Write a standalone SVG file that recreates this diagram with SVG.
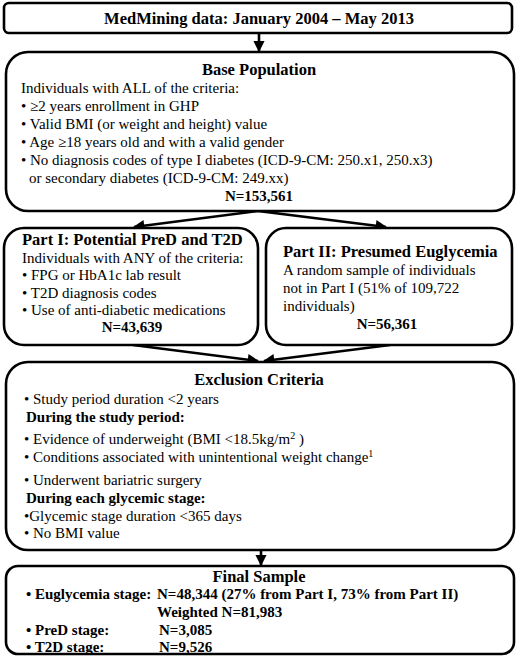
<svg xmlns="http://www.w3.org/2000/svg" width="520" height="658" viewBox="0 0 520 658">
<defs>
<marker id="ah" viewBox="0 0 10 10" refX="9" refY="5" markerWidth="4.4" markerHeight="4.4" orient="auto" markerUnits="strokeWidth">
<path d="M0,0 L10,5 L0,10 z" fill="#000"/>
</marker>
<style>
.box{fill:#fff;stroke:#000;stroke-width:2.6}
text{font-family:"Liberation Serif","Times New Roman",serif;font-size:15px;fill:#000}
.h{font-weight:bold;font-size:16.5px}
.b{font-weight:bold}
.c{text-anchor:middle}
.ln{stroke:#000;stroke-width:2.6;fill:none}
</style>
</defs>
<rect width="520" height="658" fill="#fff"/>
<g id="connectors">
<line class="ln" x1="259" y1="33" x2="259" y2="51" marker-end="url(#ah)"/>
<path class="ln" d="M258,211 L134,227" marker-end="url(#ah)"/>
<path class="ln" d="M258,211 L386,227" marker-end="url(#ah)"/>
<path class="ln" d="M133,345 L258,361" marker-end="url(#ah)"/>
<path class="ln" d="M390,345 L264,361" marker-end="url(#ah)"/>
<line class="ln" x1="261" y1="550" x2="261" y2="565" marker-end="url(#ah)"/>
</g>
<g id="source">
<rect class="box" x="4" y="3" width="508" height="30" rx="5"/>
<text class="h c" x="259" y="24">MedMining data: January 2004 – May 2013</text>
</g>
<g id="base">
<rect class="box" x="6" y="52" width="508" height="159" rx="22"/>
<text class="h c" x="259" y="75">Base Population</text>
<text x="21" y="93">Individuals with ALL of the criteria:</text>
<text x="21" y="111">• ≥2 years enrollment in GHP</text>
<text x="21" y="129">• Valid BMI (or weight and height) value</text>
<text x="21" y="147">• Age ≥18 years old and with a valid gender</text>
<text x="21" y="165">• No diagnosis codes of type I diabetes (ICD-9-CM: 250.x1, 250.x3)</text>
<text x="29" y="183">or secondary diabetes (ICD-9-CM: 249.xx)</text>
<text class="b c" x="259" y="201">N=153,561</text>
</g>
<g id="part1">
<rect class="box" x="4" y="228" width="254" height="117" rx="20"/>
<text class="h" x="22" y="245">Part I: Potential PreD and T2D</text>
<text x="22" y="263">Individuals with ANY of the criteria:</text>
<text x="22" y="280">• FPG or HbA1c lab result</text>
<text x="22" y="298">• T2D diagnosis codes</text>
<text x="22" y="315">• Use of anti-diabetic medications</text>
<text class="b c" x="132" y="332">N=43,639</text>
</g>
<g id="part2">
<rect class="box" x="266" y="228" width="246" height="117" rx="20"/>
<text class="h" x="283" y="257">Part II: Presumed Euglycemia</text>
<text x="283" y="275">A random sample of individuals</text>
<text x="283" y="293">not in Part I (51% of 109,722</text>
<text x="283" y="311">individuals)</text>
<text class="b c" x="387" y="329">N=56,361</text>
</g>
<g id="exclusion">
<rect class="box" x="6" y="362" width="508" height="188" rx="22"/>
<text class="h c" x="259" y="385">Exclusion Criteria</text>
<text x="24" y="404">• Study period duration &lt;2 years</text>
<text class="b" x="26" y="422">During the study period:</text>
<text x="24" y="444">• Evidence of underweight (BMI &lt;18.5kg/m<tspan dy="-5" font-size="10">2</tspan><tspan dy="5"> )</tspan></text>
<text x="24" y="462">• Conditions associated with unintentional weight change<tspan dy="-5" font-size="10">1</tspan></text>
<text x="24" y="485">• Underwent bariatric surgery</text>
<text class="b" x="26" y="503">During each glycemic stage:</text>
<text x="24" y="521">•Glycemic stage duration &lt;365 days</text>
<text x="24" y="538">• No BMI value</text>
</g>
<g id="final">
<rect class="box" x="6" y="566" width="508" height="88" rx="12"/>
<text class="h c" x="259" y="582">Final Sample</text>
<text class="b" x="26" y="599">• Euglycemia stage:</text>
<text class="b" x="157" y="599">N=48,344 (27% from Part I, 73% from Part II)</text>
<text class="b" x="157" y="617">Weighted N=81,983</text>
<text class="b" x="26" y="635">• PreD stage:</text>
<text class="b" x="159" y="635">N=3,085</text>
<text class="b" x="26" y="652">• T2D stage:</text>
<text class="b" x="159" y="652">N=9,526</text>
</g>
</svg>
